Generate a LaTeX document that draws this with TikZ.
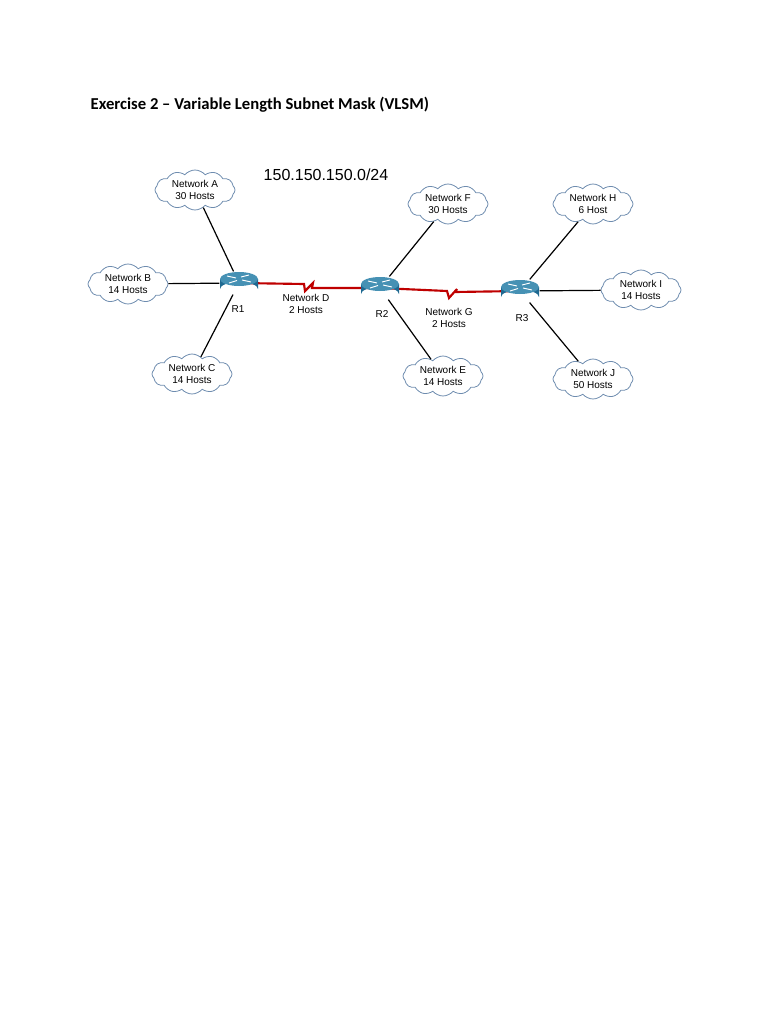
\documentclass[tikz,border=0pt]{standalone}
\usepackage{fontspec}
\setmainfont{Liberation Sans}
\newfontfamily\titlefont{Carlito}
\usetikzlibrary{shapes.symbols,shapes.geometric}
\definecolor{rbody}{RGB}{30,105,145}
\definecolor{rtop}{RGB}{70,145,180}
\definecolor{cloudc}{RGB}{110,140,175}
\begin{document}
\begin{tikzpicture}[x=0.75pt,y=-0.75pt,
  net/.style={cloud,cloud puffs=12,cloud puff arc=100,aspect=2.2,draw=cloudc,line width=0.6pt,fill=white,
     minimum width=60pt,minimum height=30pt,inner sep=0pt,align=center,font=\fontsize{7.5}{8.5}\selectfont},
  router/.style={minimum width=29pt,minimum height=17pt,inner sep=0pt},
  lbl/.style={font=\fontsize{7.5}{8.5}\selectfont,align=center},
  link/.style={black,line width=0.9pt},
  serial/.style={red!75!black,line width=1.6pt}]
\useasboundingbox (0,0) rectangle (768,1024);
\node[anchor=base west,font=\titlefont\bfseries\fontsize{12.5}{14}\selectfont] (title) at (86,109) {Exercise 2 – Variable Length Subnet Mask (VLSM)};
\node[font=\fontsize{12}{14}\selectfont] (addr) at (326,175) {150.150.150.0/24};
\node[net] (A) at (195,190) {Network A\\30 Hosts};
\node[net] (B) at (128,284) {Network B\\14 Hosts};
\node[net] (C) at (192,374) {Network C\\14 Hosts};
\node[net] (F) at (448,204) {Network F\\30 Hosts};
\node[net] (E) at (443,376) {Network E\\14 Hosts};
\node[net] (H) at (593,204) {Network H\\6 Host};
\node[net] (I) at (641,290) {Network I\\14 Hosts};
\node[net] (J) at (593,379) {Network J\\50 Hosts};
\node[router] (R1) at (239,283) {};
\node[router] (R2) at (380,288) {};
\node[router] (R3) at (520,291) {};
\draw[link] (A) -- (R1);
\draw[link] (B) -- (R1);
\draw[link] (C) -- (R1);
\draw[link] (F) -- (R2);
\draw[link] (E) -- (R2);
\draw[link] (H) -- (R3);
\draw[link] (I) -- (R3);
\draw[link] (J) -- (R3);
\draw[serial] (R1.center) -- (304,284) -- (305,291) -- (313,283) -- (312,288) -- (R2.center);
\draw[serial] (R2.center) -- (447,291) -- (449,298) -- (457,289) -- (455,292) -- (R3.center);
\foreach \r in {R1,R2,R3}{
  \begin{scope}[shift={(\r.center)}]
   \fill[rbody] (-19,-4) -- (-19,6) arc[start angle=180,end angle=360,x radius=19,y radius=7] -- (19,-4) -- cycle;
   \fill[rtop] (0,-4) ellipse[x radius=19,y radius=7];
   \draw[white,line width=0.7pt] (-12,-7) -- (-3,-5) (12,-1) -- (3,-3) (-10,0) -- (-2,-2.5) (10,-8) -- (2,-6);
  \end{scope}}
\node[lbl] (l1) at (238,309) {R1};
\node[lbl] (l2) at (382,314) {R2};
\node[lbl] (l3) at (522,318) {R3};
\node[lbl] (nd) at (306,304) {Network D\\2 Hosts};
\node[lbl] (ng) at (449,318) {Network G\\2 Hosts};
\end{tikzpicture}
\end{document}
